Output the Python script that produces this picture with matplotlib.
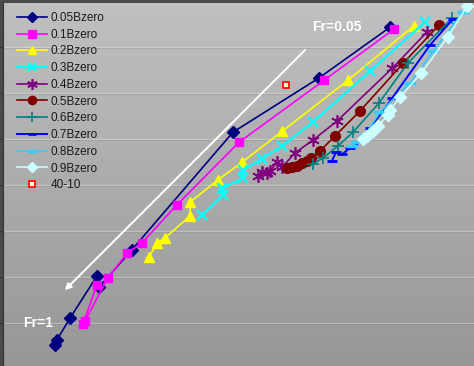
#!/usr/bin/env python

import numpy as np
import matplotlib
matplotlib.use("Agg")
import matplotlib.pyplot as plt

# values (axis units: one gridline step = 1)
x_005 = [1.13, 1.17, 1.46, 2.04, 2.09, 2.80, 5.00, 6.87, 8.41]
y_005 = [0.52, 0.63, 1.11, 2.02, 1.78, 2.59, 5.15, 6.33, 7.43]

x_01 = [2.04, 1.74, 1.78, 2.28, 2.70, 3.02, 3.78, 5.13, 6.98, 8.50]
y_01 = [1.83, 0.98, 1.04, 1.98, 2.52, 2.74, 3.57, 4.93, 6.28, 7.39]

x_02 = [3.17, 3.35, 3.52, 4.07, 4.07, 4.67, 5.20, 6.07, 7.50, 8.93]
y_02 = [2.43, 2.74, 2.85, 3.33, 3.63, 4.11, 4.50, 5.17, 6.28, 7.46]

x_03 = [4.33, 4.78, 4.76, 5.22, 5.22, 5.63, 6.07, 6.74, 7.98, 9.17]
y_03 = [3.35, 3.78, 3.93, 4.15, 4.33, 4.57, 4.85, 5.37, 6.48, 7.54]

x_04 = [5.54, 5.63, 5.74, 5.80, 5.96, 6.07, 6.35, 6.74, 7.26, 8.46, 9.22]
y_04 = [4.20, 4.28, 4.26, 4.30, 4.50, 4.39, 4.70, 4.98, 5.39, 6.54, 7.33]

x_05 = [6.17, 6.28, 6.39, 6.50, 6.61, 6.70, 6.89, 7.22, 7.76, 8.70, 9.48]
y_05 = [4.37, 4.39, 4.41, 4.48, 4.52, 4.59, 4.74, 5.07, 5.61, 6.65, 7.48]

x_06 = [6.74, 6.96, 7.28, 7.61, 8.17, 8.80, 9.76]
y_06 = [4.46, 4.59, 4.85, 5.15, 5.78, 6.65, 7.63]

x_07 = [7.15, 7.24, 7.37, 7.54, 7.76, 7.98, 8.46, 9.28, 9.78]
y_07 = [4.52, 4.72, 4.67, 4.80, 4.93, 5.24, 5.89, 7.04, 7.61]

x_08 = [7.59, 7.70, 7.87, 8.20, 8.85, 9.35, 10.00]
y_08 = [4.85, 4.93, 5.09, 5.59, 6.22, 6.91, 7.76]

x_09 = [7.83, 7.91, 8.04, 8.15, 8.37, 8.41, 8.63, 9.09, 9.67, 10.09]
y_09 = [5.00, 5.07, 5.17, 5.28, 5.52, 5.63, 5.91, 6.43, 7.22, 7.89]

x_4010 = [6.15]
y_4010 = [6.17]

# white trend arrow (tail, head) and the labels
arrow_tail = (6.61, 6.98)
arrow_head = (1.30, 1.67)

labels = ["0.05Bzero", "0.1Bzero", "0.2Bzero", "0.3Bzero", "0.4Bzero",
          "0.5Bzero", "0.6Bzero", "0.7Bzero", "0.8Bzero", "0.9Bzero"]


def main():
    plt.rcParams["font.family"] = ["Liberation Sans", "DejaVu Sans"]
    fig = plt.figure(figsize=(4.74, 3.66), dpi=100, facecolor="#4a4a4a")
    ax = fig.add_axes([3 / 474, 0, 471 / 474, 363 / 366])

    xmin, xmax = 0, 10.24
    ymin, ymax = 0.065, 7.96

    # grey gradient like the excel plot area, light at the top
    grad = np.linspace(0, 1, 256).reshape(-1, 1)
    cmap = matplotlib.colors.LinearSegmentedColormap.from_list(
        "bg", ["#c0c0c0", "#979797"])
    ax.imshow(grad, extent=[xmin, xmax, ymin, ymax], origin="upper",
              aspect="auto", cmap=cmap, zorder=0)
    ax.set_xlim(xmin, xmax)
    ax.set_ylim(ymin, ymax)

    for g in range(1, 8):
        ax.axhline(g, color="white", alpha=0.3, lw=1, zorder=1)
        ax.axhline(g - 0.02, color="#707070", alpha=0.25, lw=0.8, zorder=1)

    series = [
        (x_005, y_005, dict(color="#000080", marker="D", ms=6)),
        (x_01, y_01, dict(color="#ff00ff", marker="s", ms=6)),
        (x_02, y_02, dict(color="#ffff00", marker="^", ms=7)),
        (x_03, y_03, dict(color="#00ffff", marker="x", ms=7, mew=1.6, lw=1.6)),
        (x_04, y_04, dict(color="#800080", marker=(6, 2, 0), ms=9, mew=1.2)),
        (x_05, y_05, dict(color="#800000", marker="o", ms=7)),
        (x_06, y_06, dict(color="#008080", marker="+", ms=8, mew=1.2)),
        (x_07, y_07, dict(color="#0000ff", marker="_", ms=7, mew=2, lw=1.4)),
        (x_08, y_08, dict(color="#33ccff", marker="_", ms=9, mew=2.5)),
        (x_09, y_09, dict(color="#ccffff", marker="D", ms=6)),
    ]
    for (xs, ys, kw), lab in zip(series, labels):
        kw.setdefault("lw", 1.2)
        ax.plot(xs, ys, label=lab, zorder=3, **kw)

    ax.plot(x_4010, y_4010, ls="none", marker="s", ms=5, mfc="#ffffcc",
            mec="#ff0000", mew=1.2, label="40-10", zorder=3)

    ax.annotate("", xy=arrow_head, xytext=arrow_tail, zorder=2,
                arrowprops=dict(arrowstyle="-|>", color="white", lw=1.5,
                                mutation_scale=9))
    ax.text(6.72, 7.43, "Fr=0.05", color="white", fontsize=10,
            fontweight="bold", va="center", ha="left")
    ax.text(0.43, 1.0, "Fr=1", color="white", fontsize=10,
            fontweight="bold", va="center", ha="left")

    ax.set_xticks([])
    ax.set_yticks(range(1, 8))
    ax.set_yticklabels([])
    ax.tick_params(axis="y", length=3, color="#333333", direction="out")
    for side in ["top", "right", "bottom"]:
        ax.spines[side].set_visible(False)
    ax.spines["left"].set_color("#333333")

    leg = ax.legend(loc="upper left", bbox_to_anchor=(17 / 474, 1 - 12 / 366),
                    bbox_transform=fig.transFigure, frameon=False,
                    fontsize=8.5, handlelength=2.55, handletextpad=0.3,
                    borderpad=0, borderaxespad=0, labelspacing=0.4,
                    markerscale=0.85)
    for t in leg.get_texts():
        t.set_color("#1a1a1a")

    fig.savefig("out.png", dpi=100, facecolor=fig.get_facecolor())


if __name__ == "__main__":
    main()
